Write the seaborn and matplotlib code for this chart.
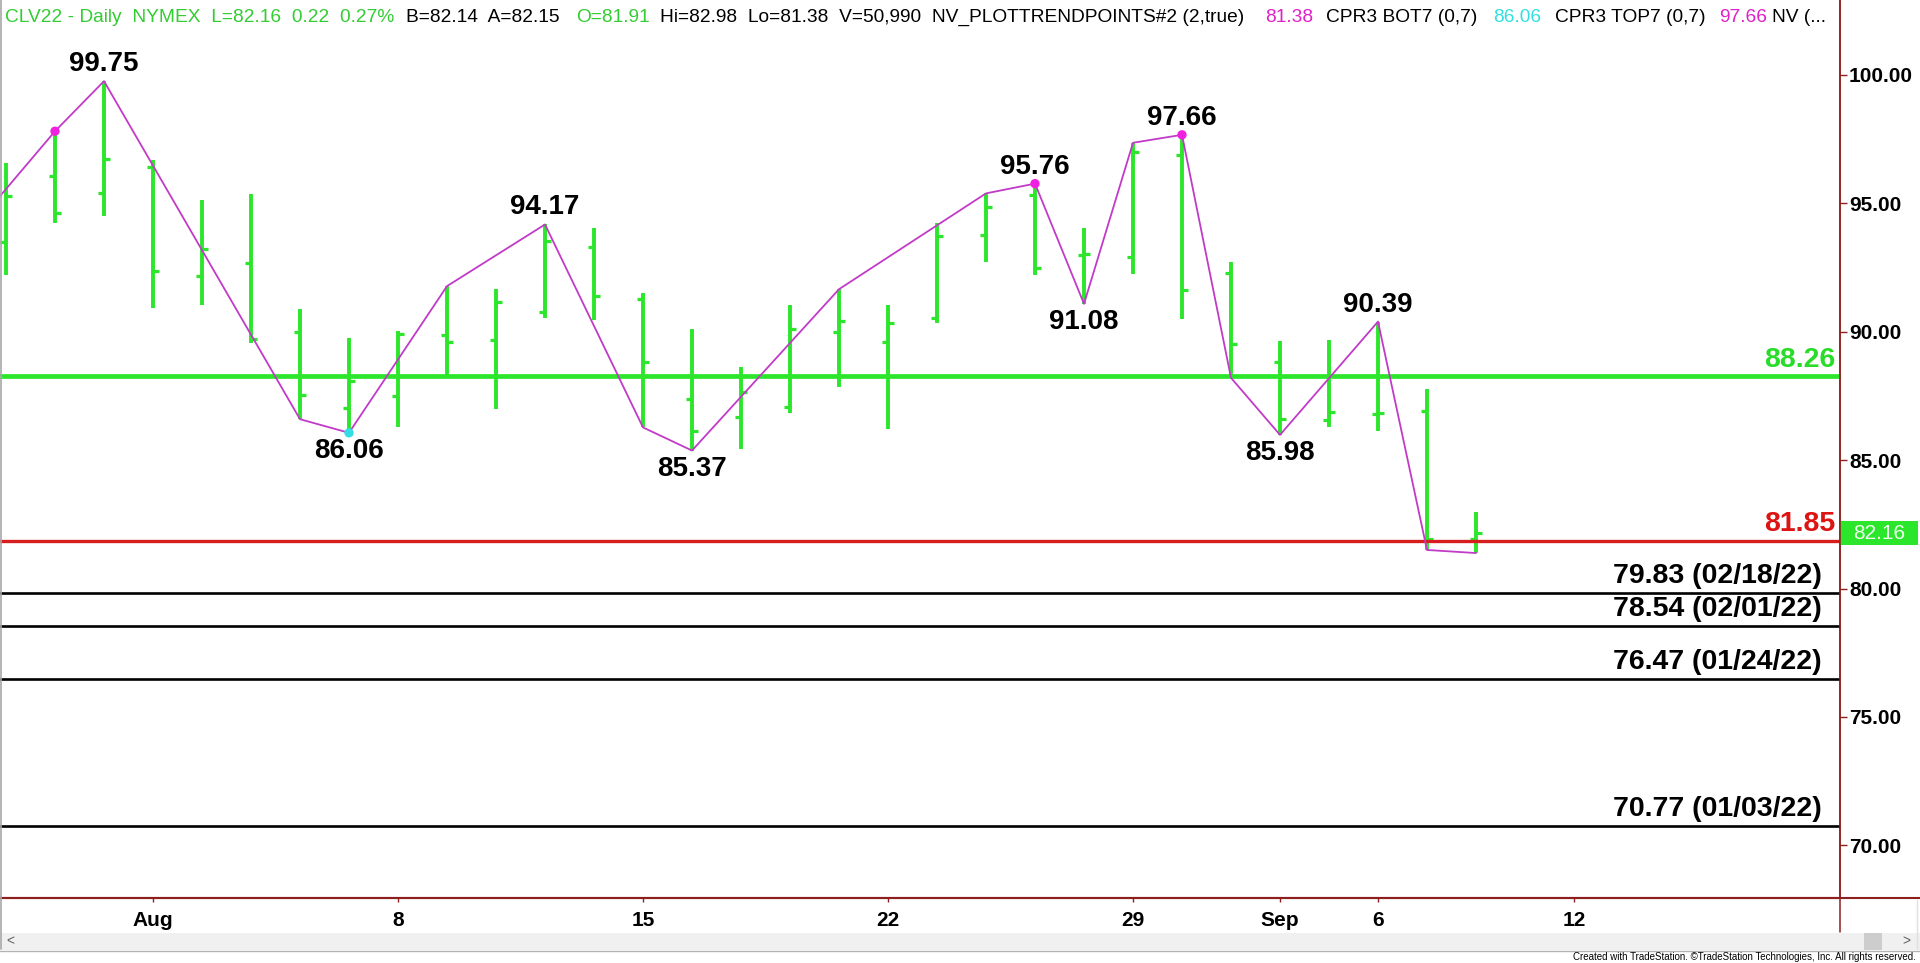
import numpy as np
import pandas as pd
import matplotlib
matplotlib.use("Agg")
import matplotlib.pyplot as plt
from matplotlib.patches import Rectangle
from matplotlib.lines import Line2D
import seaborn as sns

# CLV22 daily bars, Jul 27 - Sep 8 2022
bar_dates = ["2022-07-27", "2022-07-28", "2022-07-29",
             "2022-08-01", "2022-08-02", "2022-08-03", "2022-08-04", "2022-08-05",
             "2022-08-08", "2022-08-09", "2022-08-10", "2022-08-11", "2022-08-12",
             "2022-08-15", "2022-08-16", "2022-08-17", "2022-08-18", "2022-08-19",
             "2022-08-22", "2022-08-23", "2022-08-24", "2022-08-25", "2022-08-26",
             "2022-08-29", "2022-08-30", "2022-08-31", "2022-09-01", "2022-09-02",
             "2022-09-06", "2022-09-07", "2022-09-08"]
opens = [93.50, 96.06, 95.38, 96.40, 92.16, 92.66, 89.97, 87.01, 87.49, 89.87,
         89.67, 90.78, 93.28, 91.26, 87.37, 86.66, 87.05, 89.97, 89.58, 90.54,
         93.76, 95.32, 93.00, 92.92, 96.87, 92.28, 88.82, 86.56, 86.80, 86.91, 81.91]
highs = [96.55, 97.80, 99.75, 96.68, 95.12, 95.34, 90.87, 89.74, 90.04, 91.77,
         91.65, 94.17, 94.02, 91.49, 90.09, 88.63, 91.04, 91.65, 91.04, 94.24,
         95.38, 95.76, 94.02, 97.35, 97.66, 92.72, 89.63, 89.67, 90.39, 87.75, 82.98]
lows = [92.20, 94.21, 94.51, 90.91, 91.03, 89.54, 86.59, 86.06, 86.27, 88.31,
        86.98, 90.52, 90.45, 86.27, 85.37, 85.42, 86.84, 87.86, 86.20, 90.35,
        92.72, 92.20, 91.08, 92.24, 90.48, 88.24, 85.98, 86.27, 86.14, 81.50, 81.38]
closes = [95.28, 94.60, 96.72, 92.36, 93.20, 89.70, 87.52, 88.07, 89.91, 89.61,
          91.16, 93.53, 91.40, 88.80, 86.13, 87.66, 90.10, 90.41, 90.32, 93.72,
          94.84, 92.49, 93.02, 97.00, 91.62, 89.52, 86.61, 86.87, 86.84, 81.94, 82.16]
holidays = ["2022-09-05"]

# trend points indicator (zig-zag)
trend_dates = ["2022-07-26", "2022-07-28", "2022-07-29", "2022-08-04", "2022-08-05",
               "2022-08-09", "2022-08-11", "2022-08-15", "2022-08-16", "2022-08-19",
               "2022-08-24", "2022-08-25", "2022-08-26", "2022-08-29", "2022-08-30",
               "2022-08-31", "2022-09-01", "2022-09-06", "2022-09-07", "2022-09-08"]
trend_prices = [93.30, 97.80, 99.75, 86.59, 86.06, 91.77, 94.17, 86.27, 85.37, 91.65,
                95.38, 95.76, 91.08, 97.35, 97.66, 88.20, 85.98, 90.39, 81.50, 81.38]

# swing labels
swing_dates = ["2022-07-29", "2022-08-05", "2022-08-11", "2022-08-16", "2022-08-25",
               "2022-08-26", "2022-08-30", "2022-09-01", "2022-09-06"]
swing_prices = [99.75, 86.06, 94.17, 85.37, 95.76, 91.08, 97.66, 85.98, 90.39]
swing_kind = ["hi", "lo", "hi", "lo", "hi", "lo", "hi", "lo", "hi"]

# CPR dots
dot_dates = ["2022-07-28", "2022-08-25", "2022-08-30", "2022-08-05"]
dot_prices = [97.80, 95.76, 97.66, 86.06]
dot_kind = ["top", "top", "top", "bot"]

# horizontal levels
level_prices = [88.26, 81.85, 79.83, 78.54, 76.47, 70.77]
level_texts = ["88.26", "81.85", "79.83 (02/18/22)", "78.54 (02/01/22)",
               "76.47 (01/24/22)", "70.77 (01/03/22)"]
level_kind = ["green", "red", "black", "black", "black", "black"]

tick_dates = ["2022-08-01", "2022-08-08", "2022-08-15", "2022-08-22",
              "2022-08-29", "2022-09-01", "2022-09-06", "2022-09-12"]
tick_labels = ["Aug", "8", "15", "22", "29", "Sep", "6", "12"]
price_ticks = [70, 75, 80, 85, 90, 95, 100]


def pos(dates):
    return np.busday_count(bar_dates[0], dates, holidays=holidays) + 1


GREEN = "#2BE62B"
RED = "#D61E1E"
MAGENTA = "#C23AC8"
AXIS = "#8E1F1F"

sns.set_theme(style="white")
plt.rcParams["font.family"] = ["Liberation Sans", "DejaVu Sans"]

W, H = 1920, 963
fig = plt.figure(figsize=(19.2, 9.63), dpi=100)
fig.patch.set_facecolor("white")
ax = fig.add_axes([0, 1 - 898 / H, 1840 / W, 898 / H])
ax.set_facecolor("white")

df = pd.DataFrame({"date": bar_dates, "open": opens, "high": highs,
                   "low": lows, "close": closes})
df["x"] = pos(df["date"].tolist())

# OHLC bars
ax.vlines(df["x"], df["low"], df["high"], color=GREEN, lw=2.8, zorder=2)
ax.hlines(df["open"], df["x"] - 0.13, df["x"], color=GREEN, lw=2.3, zorder=2)
ax.hlines(df["close"], df["x"], df["x"] + 0.13, color=GREEN, lw=2.3, zorder=2)

# levels
lvl_color = {"green": GREEN, "red": RED, "black": "black"}
lvl_width = {"green": 3.4, "red": 2.4, "black": 1.9}
for p, t, k in zip(level_prices, level_texts, level_kind):
    ax.axhline(p, color=lvl_color[k], lw=lvl_width[k], zorder=3)
    xr = 0.9973 if k != "black" else 0.9902
    tc = {"green": "#2ADC2A", "red": "#DD1414", "black": "black"}[k]
    ax.annotate(t, xy=(xr, p), xycoords=ax.get_yaxis_transform(),
                xytext=(0, 7), textcoords="offset points", ha="right",
                va="baseline", fontsize=20.5, fontweight="bold", color=tc)

# trend line
trend = pd.DataFrame({"x": pos(trend_dates), "price": trend_prices})
sns.lineplot(data=trend, x="x", y="price", ax=ax, color=MAGENTA, lw=1.3,
             sort=False, estimator=None, zorder=4)

dots = pd.DataFrame({"x": pos(dot_dates), "price": dot_prices, "kind": dot_kind})
sns.scatterplot(data=dots, x="x", y="price", hue="kind", ax=ax, s=45,
                palette={"top": "#F020E0", "bot": "#33DDE6"},
                edgecolor="none", legend=False, zorder=5)

# swing labels
for d, p, k in zip(pos(swing_dates), swing_prices, swing_kind):
    off = 7.2 if k == "hi" else -18
    ax.annotate(f"{p:.2f}", xy=(d, p), xytext=(0, off), textcoords="offset points",
                ha="center", va="baseline", fontsize=20, fontweight="bold",
                color="black", zorder=6)

# axes
ax.set_xlim(1 - 6 / 49, 1 + 1834 / 49)
ax.set_ylim(100 - (898 - 74.7) / 25.69, 100 + 74.7 / 25.69)
ax.set_xlabel("")
ax.set_ylabel("")
ax.yaxis.tick_right()
ax.set_yticks(price_ticks)
ax.set_yticklabels([f"{v:.2f}" for v in price_ticks])
ax.set_xticks(pos(tick_dates))
ax.set_xticklabels(tick_labels)
ax.tick_params(axis="y", direction="out", length=5, width=1, color=AXIS,
               pad=1.5, labelsize=15, labelcolor="black", right=True, left=False)
ax.tick_params(axis="x", direction="out", length=3, width=1, color=AXIS,
               pad=6, labelsize=15, labelcolor="black", bottom=True)
for lbl in ax.get_yticklabels() + ax.get_xticklabels():
    lbl.set_fontweight("bold")
for s in ["top", "left"]:
    ax.spines[s].set_visible(False)
ax.spines["right"].set_color(AXIS)
ax.spines["right"].set_linewidth(1.1)
ax.spines["bottom"].set_color(AXIS)
ax.spines["bottom"].set_linewidth(1.5)

# last price box
last = closes[-1]
ax.add_patch(Rectangle((1.0, last - 0.47), 78 / 1840, 0.94,
                       transform=ax.get_yaxis_transform(), fc=GREEN, ec="none",
                       clip_on=False, zorder=6))
ax.text(1.0 + 39 / 1840, last, f"{last:.2f}", transform=ax.get_yaxis_transform(),
        ha="center", va="center", fontsize=15, color="#EFFFEF", zorder=7)

# frame lines outside the plot
def fx(px):
    return px / W


def fy(py):
    return 1 - py / H


fig.add_artist(Line2D([0, 1], [fy(898), fy(898)], color=AXIS, lw=1.5))
fig.add_artist(Line2D([fx(1840), fx(1840)], [fy(0), fy(932)], color=AXIS, lw=1.1))
fig.add_artist(Line2D([fx(1), fx(1)], [fy(0), fy(949)], color="#A8A8A8", lw=1.2))
fig.add_artist(Line2D([fx(1917), fx(1917)], [fy(900), fy(949)], color="#E0E0E0", lw=1))

# scroll bar
fig.add_artist(Rectangle((0, fy(950)), 1, 17 / H, transform=fig.transFigure,
                         fc="#F0F0F0", ec="none"))
fig.add_artist(Rectangle((fx(1864), fy(950)), 18 / W, 17 / H,
                         transform=fig.transFigure, fc="#CDCDCD", ec="none"))
fig.add_artist(Line2D([0, 1], [fy(951), fy(951)], color="#B4B4B4", lw=1))
fig.text(fx(10), fy(941), "<", ha="center", va="center", fontsize=10, color="#606060")
fig.text(fx(1906), fy(941), ">", ha="center", va="center", fontsize=10, color="#606060")
fig.text(fx(1916), fy(957), "Created with TradeStation. \u00a9TradeStation Technologies, Inc. All rights reserved.",
         ha="right", va="center", fontsize=7, color="black")

# header line
header = [
    (5, "CLV22 - Daily  NYMEX  L=82.16  0.22  0.27%", "#33CC33"),
    (406, "B=82.14  A=82.15", "black"),
    (576, "O=81.91", "#33CC33"),
    (660, "Hi=82.98  Lo=81.38  V=50,990  NV_PLOTTRENDPOINTS#2 (2,true)", "black"),
    (1265, "81.38", "#E020C8"),
    (1326, "CPR3 BOT7 (0,7)", "black"),
    (1493, "86.06", "#33E0E0"),
    (1555, "CPR3 TOP7 (0,7)", "black"),
    (1719, "97.66", "#E020C8"),
    (1772, "NV (...", "black"),
]
for x0, txt, c in header:
    fig.text(fx(x0), fy(21.5), txt, ha="left", va="baseline", fontsize=13.8, color=c)

plt.savefig("out.png", dpi=100)
